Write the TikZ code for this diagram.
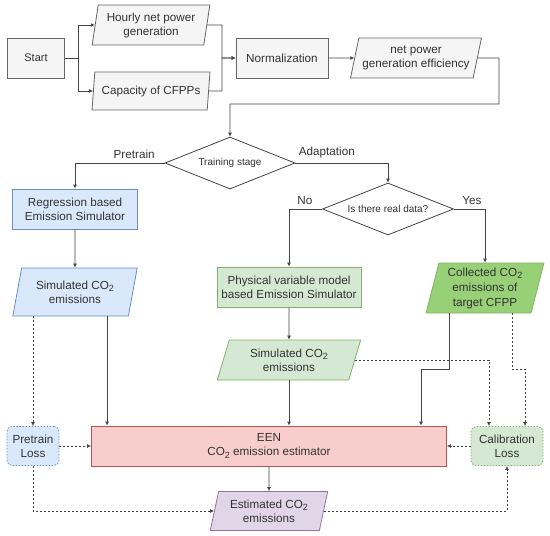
\documentclass[tikz,border=0pt]{standalone}
\usepackage{fontspec}
\setmainfont{Liberation Sans}
\usetikzlibrary{shapes.geometric,arrows.meta,calc}
\definecolor{gfill}{HTML}{F5F5F5}
\definecolor{gline}{HTML}{666666}
\definecolor{gtext}{HTML}{333333}
\definecolor{bfill}{HTML}{DAE8FC}
\definecolor{bline}{HTML}{6C8EBF}
\definecolor{grfill}{HTML}{D5E8D4}
\definecolor{grline}{HTML}{82B366}
\definecolor{dgfill}{HTML}{97D077}
\definecolor{rfill}{HTML}{F8CECC}
\definecolor{rline}{HTML}{B85450}
\definecolor{pfill}{HTML}{E1D5E7}
\definecolor{pline}{HTML}{9673A6}
\definecolor{conn}{HTML}{444444}
\newcommand{\cotwo}{CO\raisebox{-0.45ex}{\fontsize{9}{9}\selectfont 2}}
\tikzset{
  base/.style={font=\fontsize{11.7}{14}\selectfont, text=gtext, align=center, inner sep=1pt, line width=0.8pt},
  box/.style={base, rectangle, minimum width=#1},
  para/.style={base, trapezium, trapezium left angle=#1, trapezium right angle=180-#1, trapezium stretches=true},
  dia/.style={base, diamond, aspect=2.5, draw=conn, fill=white, font=\fontsize{10}{12}\selectfont, inner sep=0pt},
  grey/.style={fill=gfill, draw=gline},
  blue/.style={fill=bfill, draw=bline},
  green/.style={fill=grfill, draw=grline},
  dgreen/.style={fill=dgfill, draw=grline},
  red/.style={fill=rfill, draw=rline},
  purple/.style={fill=pfill, draw=pline},
  loss/.style={base, rectangle, rounded corners=5pt, dash pattern=on 1.5pt off 1.5pt},
  arr/.style={draw=conn, line width=0.8pt, -{Latex[length=4pt,width=4pt]}},
  darr/.style={arr, dash pattern=on 2pt off 2pt},
  lab/.style={font=\fontsize{11.7}{13}\selectfont, text=gtext},
}
\begin{document}
\begin{tikzpicture}[x=1pt,y=-1pt]
\useasboundingbox (0,0) rectangle (550,536);
\node[box=57, grey, minimum height=40, font=\fontsize{11}{13}\selectfont] (start) at (36,58) {Start};
\node[para=79, grey, minimum width=118, minimum height=40] (hourly) at (151,25) {Hourly net power\\generation};
\node[para=79, grey, minimum width=118, minimum height=38] (cap) at (151,91) {Capacity of CFPPs};
\node[box=92, grey, minimum height=40] (norm) at (282,58) {Normalization};
\node[para=73, grey, minimum width=131, minimum height=40] (eff) at (416,58) {net power\\generation efficiency};
\node[dia, minimum width=130, minimum height=52] (train) at (230,163) {Training stage};
\node[box=125, blue, minimum height=40] (reg) at (75,209) {Regression based\\Emission Simulator};
\node[para=75, blue, minimum width=125, minimum height=48] (simb) at (75,292) {Simulated \cotwo\\emissions};
\node[dia, minimum width=131, minimum height=52] (real) at (388,209) {Is there real data?};
\node[box=144, green, minimum height=40] (phys) at (289,287) {Physical variable model\\based Emission Simulator};
\node[para=76, dgreen, minimum width=118, minimum height=50, font=\fontsize{11.7}{15}\selectfont] (coll) at (485,288) {Collected \cotwo\\emissions of\\target CFPP};
\node[para=72, green, minimum width=144, minimum height=40] (simg) at (289,360) {Simulated \cotwo\\emissions};
\node[box=355, red, minimum height=40] (een) at (269,446) {EEN\\\cotwo{} emission estimator};
\node[loss, fill=bfill, draw=bline, minimum width=52, minimum height=39] (ploss) at (33,446) {Pretrain\\Loss};
\node[loss, fill=grfill, draw=grline, minimum width=72, minimum height=39] (closs) at (507,446) {Calibration\\Loss};
\node[para=75, purple, minimum width=118, minimum height=39] (est) at (269,511) {Estimated \cotwo\\emissions};

\draw[arr] (start.east) -- ++(13,0) |- (hourly.west);
\draw[arr] (start.east) -- ++(13,0) |- (cap.west);
\draw[arr] (hourly.east) -- (222,25) |- (norm.west);
\draw[arr] (cap.east) -- (222,91) |- (norm.west);
\draw[arr] (norm.east) -- (eff.west);
\draw[arr] (eff.east) -- (499,58) -- (499,104) -| (train.north);
\draw[arr] (train.west) -| node[lab, pos=0.17, above=1pt] {Pretrain} (reg.north);
\draw[arr] (reg.south) -- (simb.north);
\draw[arr] (train.east) -| node[lab, pos=0.17, above=1pt] {Adaptation} (real.north);
\draw[arr] (real.west) -| node[lab, pos=0.26, above=1pt] {No} (phys.north);
\draw[arr] (real.east) -| node[lab, pos=0.29, above=1pt] {Yes} (coll.north);
\draw[arr] (phys.south) -- (simg.north);
\draw[arr] (simg.south) -- (simg.south |- een.north);
\draw[arr] ([xshift=32]simb.south) -- ([xshift=32]simb.south |- een.north);
\draw[arr] ([xshift=-36]coll.south) -- ++(0,56) -| ([xshift=152]een.north);
\draw[darr] (ploss.north |- simb.south) -- (ploss.north);
\draw[darr] (simg.east) -| ([xshift=-18]closs.north);
\draw[darr] ([xshift=27]coll.south) -- ++(0,56) -| ([xshift=18]closs.north);
\draw[darr] (ploss.east) -- (een.west);
\draw[darr] (closs.west) -- (een.east);
\draw[arr] (een.south) -- (est.north);
\draw[darr] (ploss.south) |- (est.west);
\draw[darr] (est.east) -| (closs.south);
\end{tikzpicture}
\end{document}
